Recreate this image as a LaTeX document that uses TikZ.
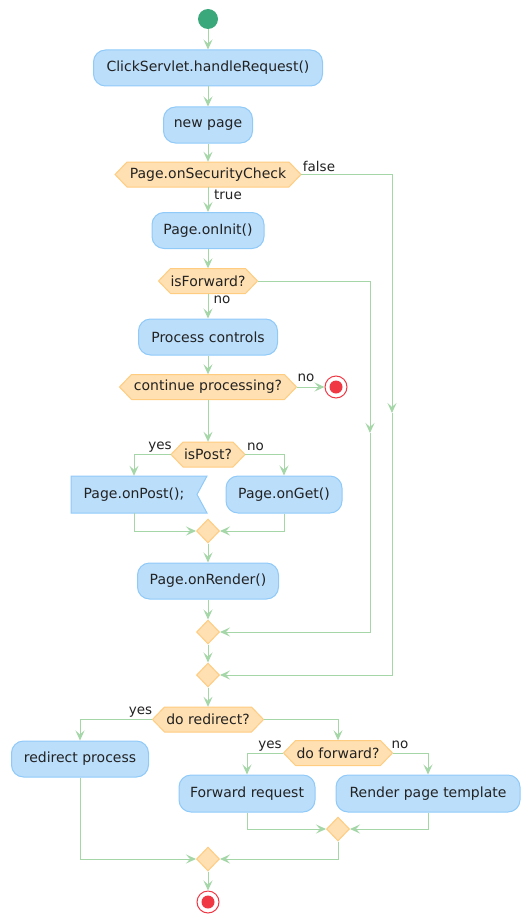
\documentclass[tikz,border=0pt]{standalone}
\usepackage{fontspec}
\setmainfont{DejaVu Sans}
\usetikzlibrary{arrows.meta,shapes.geometric}
\definecolor{lineg}{HTML}{A5D6A7}
\definecolor{actfill}{HTML}{BBDEFB}
\definecolor{actline}{HTML}{90CAF9}
\definecolor{decfill}{HTML}{FFE0B2}
\definecolor{decline}{HTML}{FFCC80}
\definecolor{startg}{HTML}{3AA87A}
\definecolor{endred}{HTML}{F03845}
\definecolor{txt}{HTML}{222222}
\newcommand{\hexnode}[5]{%
  \filldraw[fill=decfill,draw=decline,line width=1pt]
    (#2-#4,#3) -- (#2-#4+12,#3-12.5) -- (#2+#4-12,#3-12.5) -- (#2+#4,#3)
    -- (#2+#4-12,#3+12.5) -- (#2-#4+12,#3+12.5) -- cycle;
  \node[hexlabel, minimum width={2*#4}] (#1) at (#2,#3) {#5};}
\newcommand{\stopnode}[3]{%
  \node[endring] (#1) at (#2,#3) {};
  \fill[endred] (#1.center) circle (6.5);}
\begin{document}
\begin{tikzpicture}[x=1pt,y=-1pt,
  font=\fontsize{14}{16}\selectfont, text=txt,
  act/.style={rectangle, rounded corners=12pt, fill=actfill, draw=actline,
    line width=1pt, minimum height=36pt, inner sep=0pt},
  hexlabel/.style={rectangle, minimum height=25pt, inner sep=0pt},
  merge/.style={diamond, fill=decfill, draw=decline, minimum width=23pt,
    minimum height=24pt, inner sep=0pt, line width=1pt},
  endring/.style={circle, draw=endred, fill=white, minimum size=22pt,
    inner sep=0pt, line width=1pt},
  conn/.style={draw=lineg, line width=1pt},
  arr/.style={conn, -{Stealth[length=10pt,width=9pt,inset=4pt]}},
  lbl/.style={inner sep=0pt, text=txt, font=\fontsize{13.5}{15}\selectfont},
]
\useasboundingbox (0,0) rectangle (529,923);

% nodes
\node[circle, fill=startg, minimum size=20pt, inner sep=0pt] (start) at (208,19) {};
\node[act, minimum width=229pt] (b1) at (208,68) {ClickServlet.handleRequest()};
\node[act, minimum width=89pt] (b2) at (208,125) {new page};
\hexnode{h1}{208}{174.5}{93}{Page.onSecurityCheck}
\node[act, minimum width=112pt] (b3) at (208,230.5) {Page.onInit()};
\hexnode{h2}{208}{281}{49.5}{isForward?}
\node[act, minimum width=139pt] (b4) at (208,337) {Process controls};
\hexnode{h3}{208}{387}{88.5}{continue processing?}
\stopnode{end1}{336}{387}
\hexnode{h4}{208}{454.5}{37}{isPost?}
\filldraw[fill=actfill, draw=actline, line width=1pt]
  (71,476) -- (207,476) -- (197,494.5) -- (207,513) -- (71,513) -- cycle;
\node[rectangle, minimum width=126pt, minimum height=37pt, inner sep=0pt] (b5) at (134,494.5) {Page.onPost();};
\node[act, minimum width=116pt, minimum height=37pt] (b6) at (284,494.5) {Page.onGet()};
\node[merge] (d1) at (208,531) {};
\node[act, minimum width=141pt] (b7) at (208,581) {Page.onRender()};
\node[merge] (d2) at (208,632) {};
\node[merge] (d3) at (208,675) {};
\hexnode{h5}{208}{719.5}{55.5}{do redirect?}
\node[act, minimum width=137pt] (b8) at (80,759) {redirect process};
\hexnode{h6}{338}{753}{54.5}{do forward?}
\node[act, minimum width=136pt, minimum height=37pt] (b9) at (247,793.5) {Forward request};
\node[act, minimum width=184pt, minimum height=37pt] (b10) at (428,793.5) {Render page template};
\node[merge] (d4) at (338,829) {};
\node[merge] (d5) at (208,859) {};
\stopnode{end2}{208}{902}

\coordinate (fa) at (392,413);
\coordinate (fb) at (370,433);

% connectors
\draw[arr] (start) -- (b1);
\draw[arr] (b1) -- (b2);
\draw[arr] (b2) -- (h1);
\draw[arr] (h1) -- (b3);
\draw[arr] (b3) -- (h2);
\draw[arr] (h2) -- (b4);
\draw[arr] (b4) -- (h3);
\draw[arr] (h3.east) -- (end1.west);
\draw[arr] (h3) -- (h4);
\draw[arr] (h4.west) -| (b5.north);
\draw[arr] (h4.east) -| (b6.north);
\draw[arr] (b5.south) |- (d1.west);
\draw[arr] (b6.south) |- (d1.east);
\draw[arr] (d1) -- (b7);
\draw[arr] (b7) -- (d2);
\draw[arr] (h1.east) -| (fa);
\draw[arr] (fa) |- (d3.east);
\draw[arr] (h2.east) -| (fb);
\draw[arr] (fb) |- (d2.east);
\draw[arr] (d2) -- (d3);
\draw[arr] (d3) -- (h5);
\draw[arr] (h5.west) -| (b8.north);
\draw[arr] (h5.east) -| (h6.north);
\draw[arr] (h6.west) -| (b9.north);
\draw[arr] (h6.east) -| (b10.north);
\draw[arr] (b9.south) |- (d4.west);
\draw[arr] (b10.south) |- (d4.east);
\draw[arr] (d4.south) |- (d5.east);
\draw[arr] (b8.south) |- (d5.west);
\draw[arr] (d5) -- (end2);

% labels
\node[lbl] (l1) at (319,166) {false};
\node[lbl] (l2) at (228,195) {true};
\node[lbl] (l3) at (222,300) {no};
\node[lbl] (l4) at (306,378) {no};
\node[lbl] (l5) at (160,447) {yes};
\node[lbl] (l6) at (255.5,447) {no};
\node[lbl] (l7) at (140.5,712) {yes};
\node[lbl] (l8) at (270,746) {yes};
\node[lbl] (l9) at (400,745) {no};
\end{tikzpicture}
\end{document}
